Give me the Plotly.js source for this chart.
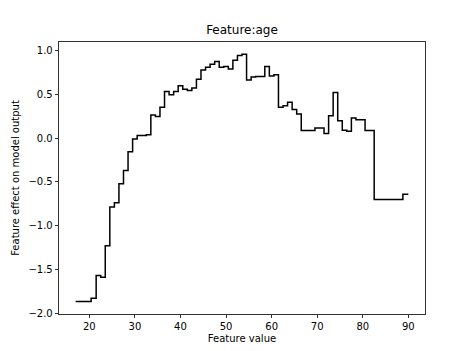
<!DOCTYPE html>
<html>
<head>
<meta charset="utf-8">
<script src="https://cdn.plot.ly/plotly-3.0.1.min.js"></script>
<style>html,body{margin:0;padding:0;background:#fff;}#chart{width:469px;height:351px;}</style>
</head>
<body>
<div id="chart"></div>
<script>
// Bin start edges (feature value) and effect for each bin
const binStarts = [17.0, 20.4, 21.5, 22.5, 23.5, 24.5, 25.5, 26.5, 27.5, 28.5, 29.5, 30.5, 32.5, 33.5, 34.5, 35.5, 36.5, 37.5, 38.5, 39.5, 40.5, 41.5, 42.5, 43.5, 44.5, 45.5, 46.5, 47.5, 48.5, 49.5, 50.5, 51.5, 52.5, 53.5, 54.5, 55.5, 56.5, 58.5, 59.5, 60.5, 61.5, 62.5, 63.5, 64.5, 65.5, 66.5, 69.5, 71.5, 72.5, 73.5, 74.5, 75.5, 76.5, 77.5, 78.5, 80.5, 82.5, 88.8];
const effects   = [-1.868, -1.83, -1.57, -1.59, -1.23, -0.786, -0.737, -0.52, -0.37, -0.156, -0.008, 0.03, 0.04, 0.265, 0.247, 0.353, 0.535, 0.497, 0.535, 0.60, 0.56, 0.545, 0.573, 0.675, 0.78, 0.81, 0.846, 0.877, 0.81, 0.82, 0.79, 0.89, 0.945, 0.96, 0.665, 0.70, 0.705, 0.82, 0.71, 0.725, 0.355, 0.372, 0.41, 0.327, 0.277, 0.088, 0.117, 0.053, 0.258, 0.524, 0.20, 0.09, 0.08, 0.23, 0.21, 0.088, -0.70, -0.64];
const lastEdge = 90.0;
const xTicks = [20, 30, 40, 50, 60, 70, 80, 90];
const yTicks = [-2.0, -1.5, -1.0, -0.5, 0.0, 0.5, 1.0];

const xs = binStarts.concat([lastEdge]);
const ys = effects.concat([effects[effects.length - 1]]);

const font = {family: 'DejaVu Sans, sans-serif', color: '#000'};
const trace = {
  x: xs, y: ys, type: 'scatter', mode: 'lines',
  line: {shape: 'hv', color: '#000', width: 1.5},
  hoverinfo: 'skip'
};
const axisCommon = {
  showline: true, mirror: true, linecolor: '#000', linewidth: 0.8,
  ticks: 'outside', ticklen: 3.5, tickwidth: 0.8, tickcolor: '#000',
  showgrid: false, zeroline: false,
  tickfont: Object.assign({size: 10}, font),
  automargin: false
};
const layout = {
  width: 469, height: 351,
  margin: {l: 59, r: 44, t: 42, b: 37, pad: 0},
  paper_bgcolor: '#fff', plot_bgcolor: '#fff',
  showlegend: false,
  font: font,
  title: {text: 'Feature:age', font: Object.assign({size: 12}, font),
          x: 0.5, xref: 'paper', y: 1 - 30/351, yref: 'container', yanchor: 'middle'},
  xaxis: Object.assign({}, axisCommon, {
    range: [13.35, 93.65], tickvals: xTicks, ticktext: xTicks.map(String),
    title: {text: 'Feature value', font: Object.assign({size: 10}, font), standoff: 3}
  }),
  yaxis: Object.assign({}, axisCommon, {
    range: [-2.01, 1.10], tickvals: yTicks, tickformat: '.1f',
    title: {text: 'Feature effect on model output', font: Object.assign({size: 10}, font), standoff: 6}
  })
};
Plotly.newPlot('chart', [trace], layout, {staticPlot: true, displayModeBar: false});
</script>
</body>
</html>
